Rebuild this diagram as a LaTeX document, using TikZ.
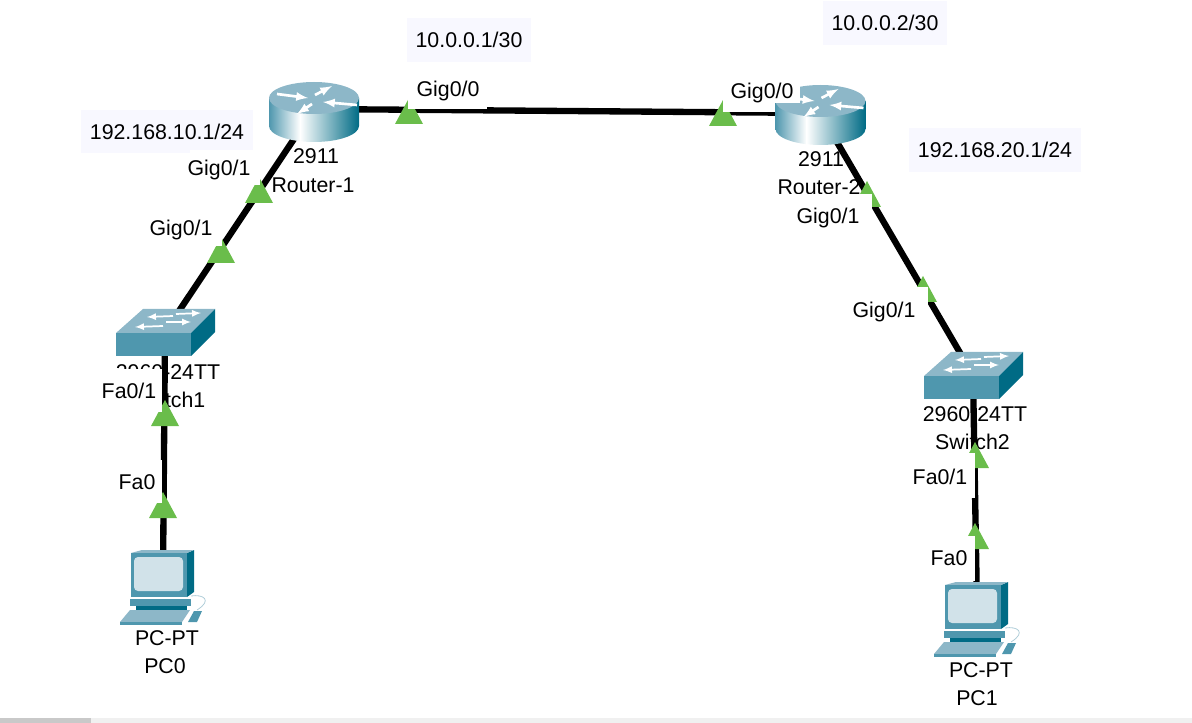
\documentclass[tikz,border=0pt]{standalone}
\usepackage{fontspec}
\setmainfont{Liberation Sans}
\definecolor{cisco}{HTML}{4F97AE}
\definecolor{ciscotop}{HTML}{8DB7C8}
\definecolor{ciscodark}{HTML}{006B85}
\definecolor{linkgreen}{HTML}{6ABD4B}
\definecolor{ipfill}{HTML}{F8F8FF}
\tikzset{
  every pic/.style={yscale=-1},
  label text/.style={font=\fontsize{16pt}{18pt}\selectfont,inner sep=0pt},
  ip box/.style={label text,fill=ipfill,minimum width=129pt,minimum height=32.5pt},
  link/.style={line width=4.75pt},
  flow/.style={white,line width=1.3pt,-latex},
  linklight/.pic={\fill[linkgreen] (0,-26) -- (14,0) -- (-14,0) -- cycle;},
  router/.pic={
    \begin{scope}
      \clip (-45,0) -- (-45,28) arc[start angle=180,end angle=0,x radius=45,y radius=16] -- (45,0) -- cycle;
      \shade[left color=cisco,right color=white] (-45,0) rectangle (-14,46);
      \shade[left color=white,right color=ciscodark] (-14.1,0) rectangle (45,46);
    \end{scope}
    \fill[ciscotop] (0,0) ellipse[x radius=45,y radius=16];
    \draw[flow,line width=2pt] (-37,-4) -- (-6,0);
    \draw[flow,line width=2pt] (43,7) -- (9,4);
    \draw[flow,line width=2pt] (1,-3) -- (18,-12);
    \draw[flow,line width=2pt] (-2,6) -- (-17,16);
  },
  switchbox/.pic={
    \fill[cisco] (0,24) rectangle (75,47);
    \fill[ciscotop] (0,24) -- (27,0) -- (99,0) -- (75,24) -- cycle;
    \fill[ciscodark] (75,24) -- (99,0) -- (99,23) -- (75,47) -- cycle;
    \draw[flow] (57,7) -- (31,8);
    \draw[flow] (60,5) -- (85,4);
    \draw[flow] (47,17) -- (19,18);
    \draw[flow] (50,13) -- (75,13);
  },
  pcbox/.pic={
    \fill[ciscodark] (56,3) -- (63,0) -- (63,42) -- (56,47) -- cycle;
    \fill[ciscotop] (0,3) -- (11,0) -- (63,0) -- (56,3) -- cycle;
    \fill[cisco] (0,3) rectangle (56,47);
    \fill[ciscotop!40!white,rounded corners=3pt] (3,7) rectangle (52,41);
    \fill[cisco] (-1,49) rectangle (60,56);
    \fill[ciscodark] (5,56) rectangle (56,60);
    \fill[ciscotop] (-11,72) -- (-1,60) -- (59,60) -- (51,72) -- cycle;
    \fill[cisco] (-11,72) rectangle (51,75);
    \fill[cisco] (57,72) -- (63,61) -- (71,61) -- (66,72) -- cycle;
    \draw[ciscotop!70!white,line width=0.6pt] (60,46) .. controls (72,44) and (82,50) .. (66,60);
  },
}
\begin{document}
\begin{tikzpicture}[x=0.75pt,y=0.75pt,yscale=-1,xscale=1]
\useasboundingbox (0,0) rectangle (1192,723);

% Scroll bar
\fill[black!6] (0,718) rectangle (1192,723);
\fill[black!21] (0,718) rectangle (91,723);

% Address boxes
\node[ip box] (ipa) at (167,131.5) {192.168.10.1/24};
\node[ip box,minimum width=93pt] (ipb) at (469,40) {10.0.0.1/30};
\node[ip box,minimum width=93pt] (ipc) at (885,23) {10.0.0.2/30};
\node[ip box] (ipd) at (995,150) {192.168.20.1/24};

% Device names
\node[label text] (modela) at (316,156) {2911};
\node[label text] (namea) at (313,185) {Router-1};
\node[label text] (modelb) at (821,159) {2911};
\node[label text] (nameb) at (819,187) {Router-2};
\node[label text] (modelc) at (168,372) {2960-24TT};
\node[label text] (namec) at (168,400) {Switch1};
\node[label text] (modeld) at (975,414) {2960-24TT};
\node[label text] (named) at (972.5,442) {Switch2};
\node[label text] (modele) at (167,638) {PC-PT};
\node[label text] (namee) at (165,666) {PC0};
\node[label text] (modelf) at (981,670) {PC-PT};
\node[label text] (namef) at (977,698) {PC1};

% Device anchors
\coordinate (routera) at (314,109);
\coordinate (routerb) at (820,113);
\coordinate (switcha) at (165,332);
\coordinate (switchb) at (973,375);
\coordinate (pca) at (163,575);
\coordinate (pcb) at (977,607);

% Connection
\draw[link] (routera) -- (routerb);
\draw[link] (routera) -- (switcha);
\draw[link] (routerb) -- (switchb);
\draw[link] (switcha) -- (pca);
\draw[link] (switchb) -- (pcb);

% Link lights
\pic at (409,124) {linklight};
\pic at (723,126) {linklight};
\pic at (259,203) {linklight};
\pic at (221,263) {linklight};
\pic at (867,207) {linklight};
\pic at (923,302) {linklight};
\pic at (165,426) {linklight};
\pic at (163,518) {linklight};
\pic at (975,468) {linklight};
\pic at (975,549) {linklight};

% Port masks
\fill[white] (408,75) rectangle (487,109);
\fill[white] (723,78) rectangle (800,112);
\fill[white] (190,150) rectangle (260,185);
\fill[white] (150,210) rectangle (222,246);
\fill[white] (785,194) rectangle (872,240);
\fill[white] (840,287) rectangle (928,333);
\fill[white] (92,369) rectangle (162,412);
\fill[white] (115,460) rectangle (162,503);
\fill[white] (913,453) rectangle (975,498);
\fill[white] (930,536) rectangle (975,581);

% Icons
\pic at (314,98) {router};
\pic at (820.5,101) {router};
\pic at (116,309) {switchbox};
\pic at (924,352) {switchbox};
\pic at (131,550) {pcbox};
\pic at (945,582) {pcbox};
\fill[white] (723,78) rectangle (800,103);

% Port labels
\node[label text] (porta) at (448,91) {Gig0/0};
\node[label text] (portb) at (762,93) {Gig0/0};
\node[label text] (portc) at (219,170) {Gig0/1};
\node[label text] (portd) at (181,230) {Gig0/1};
\node[label text] (porte) at (828,218) {Gig0/1};
\node[label text] (portf) at (884,312) {Gig0/1};
\node[label text] (portg) at (129,391) {Fa0/1};
\node[label text] (porth) at (137,482) {Fa0};
\node[label text] (porti) at (940,477) {Fa0/1};
\node[label text] (portj) at (949,558) {Fa0};

\end{tikzpicture}
\end{document}
